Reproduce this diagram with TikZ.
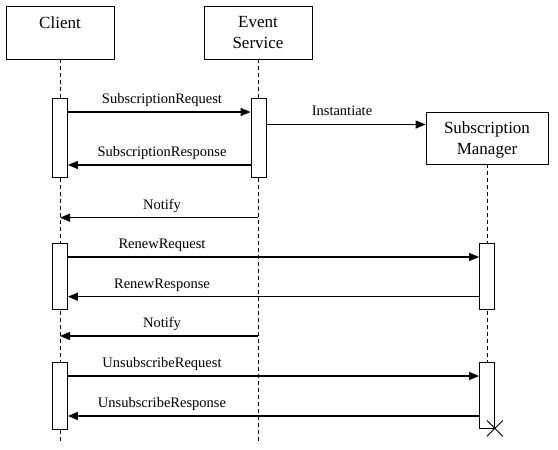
\documentclass[tikz,border=0pt]{standalone}
\usepackage{fontspec}
\setmainfont{Liberation Serif}
\usetikzlibrary{arrows.meta}

\tikzset{
  actor/.style={draw, line width=0.8pt, fill=white, align=center, text depth=0pt, inner sep=0pt, font=\fontsize{17}{20.5}\selectfont},
  actortext/.style={anchor=base, inner sep=0pt, font=\fontsize{17}{20.5}\selectfont},
  activation/.style={draw, line width=0.8pt, fill=white, minimum width=15pt, inner sep=0pt},
  lifeline/.style={line width=0.8pt, dash pattern=on 4pt off 3pt},
  msg/.style={line width=1.2pt, -{Triangle[length=10pt,width=8pt]}},
  msglabel/.style={anchor=base, inner sep=0pt, font=\fontsize{14.5}{17}\selectfont},
}

\begin{document}
\begin{tikzpicture}[x=1pt,y=1pt,yscale=-1,xscale=1]
\useasboundingbox (0,0) rectangle (558,450);

%Shape: Actors
\node[actor, minimum width=108pt, minimum height=53pt] (client) at (60,32.5) {};
\node[actor, minimum width=108pt, minimum height=53pt] (es) at (258,32.5) {Event\\Service};
\node[actor, minimum width=122pt, minimum height=52pt] (sm) at (487,138) {Subscription\\Manager};
% Text Node
\node[actortext] (clientname) at (60,28.3) {Client};

%Straight Lines: lifelines
\coordinate (bottom) at (0,441);
\draw[lifeline] (client.south) -- (client.south |- bottom);
\draw[lifeline] (es.south) -- (es.south |- bottom);
\draw[lifeline] (sm.south) -- (sm.south |- 0,428);

%Shape: Activations
\node[activation, minimum height=79pt] (cact1) at (60,138) {};
\node[activation, minimum height=79pt] (esact) at (258.5,138) {};
\node[activation, minimum height=66pt] (cact2) at (60,276) {};
\node[activation, minimum height=66pt] (sact2) at (487,276.5) {};
\node[activation, minimum height=67pt] (cact3) at (60,395.5) {};
\node[activation, minimum height=66pt] (sact3) at (487,395) {};

%Message heights
\coordinate (m1) at (0,112);
\coordinate (m2) at (0,124.5);
\coordinate (m3) at (0,165);
\coordinate (m4) at (0,217.7);
\coordinate (m5) at (0,257);
\coordinate (m6) at (0,296.7);
\coordinate (m7) at (0,336);
\coordinate (m8) at (0,376);
\coordinate (m9) at (0,416);

%Straight Lines: messages
\draw[msg] (cact1.east |- m1) -- (esact.west |- m1);
\draw[msg] (esact.east |- m2) -- (sm.west |- m2);
\draw[msg] (esact.west |- m3) -- (cact1.east |- m3);
\draw[msg] (es.south |- m4) -- (client.south |- m4);
\draw[msg] (cact2.east |- m5) -- (sact2.west |- m5);
\draw[msg] (sact2.west |- m6) -- (cact2.east |- m6);
\draw[msg] (es.south |- m7) -- (client.south |- m7);
\draw[msg] (cact3.east |- m8) -- (sact3.west |- m8);
\draw[msg] (sact3.west |- m9) -- (cact3.east |- m9);

%Straight Lines: destroy mark
\draw[line width=0.8pt] ([shift={(-8,-8)}]sact3.south east) -- ([shift={(8,8)}]sact3.south east);
\draw[line width=0.8pt] ([shift={(-8,8)}]sact3.south east) -- ([shift={(8,-8)}]sact3.south east);

% Text Node
\node[msglabel] (subreq) at (162,103.3) {SubscriptionRequest};
% Text Node
\node[msglabel] (inst) at (342,115.8) {Instantiate};
% Text Node
\node[msglabel] (subresp) at (162,156.3) {SubscriptionResponse};
% Text Node
\node[msglabel] (notify) at (162,209) {Notify};
% Text Node
\node[msglabel] (renreq) at (162,248.3) {RenewRequest};
% Text Node
\node[msglabel] (renresp) at (162,288) {RenewResponse};
% Text Node
\node[msglabel] (notifyb) at (162,327.3) {Notify};
% Text Node
\node[msglabel] (unsreq) at (162,367.3) {UnsubscribeRequest};
% Text Node
\node[msglabel] (unsresp) at (162,407.3) {UnsubscribeResponse};

\end{tikzpicture}
\end{document}
